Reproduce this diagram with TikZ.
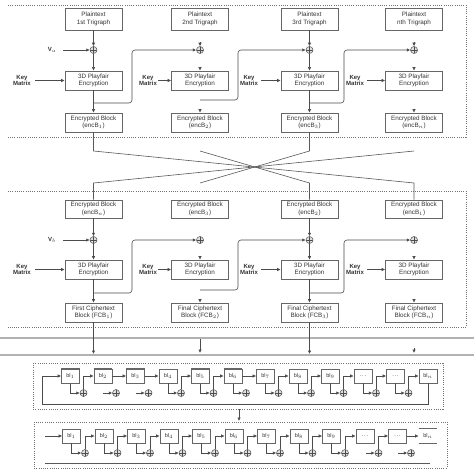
\documentclass[tikz,border=0pt]{standalone}
\usepackage{fontspec}
\setmainfont{Liberation Sans}
\usetikzlibrary{arrows.meta,calc}
\tikzset{
 box/.style={draw=black!60, line width=0.7pt, minimum width=57pt, minimum height=19pt, inner sep=0pt, align=center, font=\fontsize{6.3}{7.3}\selectfont, text=black!80},
 sbox/.style={draw=black!60, line width=0.7pt, minimum width=18pt, minimum height=14pt, inner sep=0pt, font=\fontsize{5.5}{6}\selectfont, text=black!80},
 obox/.style={sbox, draw=none},
 xor/.style={circle, draw=black!70, fill=black!12, line width=0.5pt, minimum size=7pt, inner sep=0pt, path picture={\draw[black!70,line width=0.4pt] (path picture bounding box.north) -- (path picture bounding box.south) (path picture bounding box.west) -- (path picture bounding box.east);}},
 arr/.style={-{Latex[length=3.5pt,width=3.5pt]}, black!70, line width=0.6pt},
 ln/.style={black!65, line width=0.6pt},
 dots/.style={black!55, line width=0.7pt, dash pattern=on 1pt off 1.2pt},
 lbl/.style={font=\bfseries\fontsize{6}{6.8}\selectfont, align=center, text=black!80, inner sep=1pt},
 fb/.style={arr, rounded corners=3pt},
}
\begin{document}
\begin{tikzpicture}[x=1pt,y=-1pt]
\useasboundingbox (0,0) rectangle (474,476);
\fill[white] (0,0) rectangle (474,476);

% ---------- top section ----------
\draw[dots] (8,5) -- (466,5) -- (466,137) -- (8,137);
\node[box, minimum height=22pt] (p1) at (93.5,19) {Plaintext\\1st Trigraph};
\node[box, minimum height=22pt] (p2) at (200,19) {Plaintext\\2nd Trigraph};
\node[box, minimum height=22pt] (p3) at (309.5,19) {Plaintext\\3rd Trigraph};
\node[box, minimum height=22pt] (p4) at (414,19) {Plaintext\\nth Trigraph};
\node[xor] (x1) at (93.5,50) {};
\node[xor] (x2) at (200,50) {};
\node[xor] (x3) at (309.5,50) {};
\node[xor] (x4) at (414,50) {};
\node[box] (e1) at (93.5,80.5) {3D Playfair\\Encryption};
\node[box] (e2) at (200,80.5) {3D Playfair\\Encryption};
\node[box] (e3) at (309.5,80.5) {3D Playfair\\Encryption};
\node[box] (e4) at (414,80.5) {3D Playfair\\Encryption};
\node[box] (c1) at (93.5,122.5) {Encrypted Block\\(encB$_1$)};
\node[box] (c2) at (200,122.5) {Encrypted Block\\(encB$_2$)};
\node[box] (c3) at (309.5,122.5) {Encrypted Block\\(encB$_3$)};
\node[box] (c4) at (414,122.5) {Encrypted Block\\(encB$_n$)};
\foreach \c in {1,3}{
 \draw[arr] (p\c) -- (x\c);
 \draw[arr] (x\c) -- (e\c);
 \draw[arr] (e\c) -- (c\c);
}
\foreach \c in {2,4}{
 \draw[arr] ($(x\c.north)+(0,-4)$) -- (x\c.north);
 \draw[arr] ($(e\c.north)+(0,-4)$) -- (e\c.north);
 \draw[arr] ($(c\c.north)+(0,-4)$) -- (c\c.north);
}
\node[lbl] (va) at (52,50) {V$_a$};
\draw[arr, shorten <=6pt] (va) -- (x1);
\node[lbl] (k1) at (22,80.5) {Key\\Matrix};
\node[lbl] (k2) at (148,80.5) {Key\\Matrix};
\node[lbl] (k3) at (249,80.5) {Key\\Matrix};
\node[lbl] (k4) at (355,80.5) {Key\\Matrix};
\draw[arr, shorten <=3pt] (k1) -- (e1);
\draw[arr] (k2) -- (e2);
\draw[arr, shorten <=2pt] (k3) -- (e3);
\draw[arr, shorten <=2pt] (k4) -- (e4);
\coordinate (fa1) at (93.5,103);
\coordinate (fa2) at (200,100);
\coordinate (fa3) at (309.5,103);
\draw[fb] (fa1) -- (132,103) -- (132,50) -- (x2.west);
\draw[fb] (fa2) -- (238,100) -- (238,50) -- (x3.west);
\draw[fb] (fa3) -- (344,103) -- (344,50) -- (x4.west);

% ---------- middle section ----------
\draw[dots] (8,191) -- (466,191) -- (466,327) -- (8,327);
\node[box, minimum height=18pt] (m1) at (93.5,209) {Encrypted Block\\(encB$_n$)};
\node[box, minimum height=18pt] (m2) at (200,209) {Encrypted Block\\(encB$_3$)};
\node[box, minimum height=18pt] (m3) at (309.5,209) {Encrypted Block\\(encB$_2$)};
\node[box, minimum height=18pt] (m4) at (414,209) {Encrypted Block\\(encB$_1$)};
\node[xor] (y1) at (93.5,240) {};
\node[xor] (y2) at (200,240) {};
\node[xor] (y3) at (309.5,240) {};
\node[xor] (y4) at (414,240) {};
\node[box] (q1) at (93.5,269.5) {3D Playfair\\Encryption};
\node[box] (q2) at (200,269.5) {3D Playfair\\Encryption};
\node[box] (q3) at (309.5,269.5) {3D Playfair\\Encryption};
\node[box] (q4) at (414,269.5) {3D Playfair\\Encryption};
\node[box] (f1) at (93.5,312.5) {First Ciphertext\\Block (FCB$_1$)};
\node[box] (f2) at (200,312.5) {Final Ciphertext\\Block (FCB$_2$)};
\node[box] (f3) at (309.5,312.5) {Final Ciphertext\\Block (FCB$_3$)};
\node[box] (f4) at (414,312.5) {Final Ciphertext\\Block (FCB$_n$)};
\foreach \c in {1,3}{
 \draw[arr] (m\c) -- (y\c);
 \draw[arr] (y\c) -- (q\c);
 \draw[arr] (q\c) -- (f\c);
}
\foreach \c in {2,4}{
 \draw[arr] ($(q\c.north)+(0,-4)$) -- (q\c.north);
 \draw[arr] ($(f\c.north)+(0,-4)$) -- (f\c.north);
}
\node[lbl] (vb) at (52,240) {V$_b$};
\draw[arr, shorten <=6pt] (vb) -- (y1);
\node[lbl] (kk1) at (22,269.5) {Key\\Matrix};
\node[lbl] (kk2) at (148,269.5) {Key\\Matrix};
\node[lbl] (kk3) at (249,269.5) {Key\\Matrix};
\node[lbl] (kk4) at (355,269.5) {Key\\Matrix};
\draw[arr, shorten <=3pt] (kk1) -- (q1);
\draw[arr] (kk2) -- (q2);
\draw[arr, shorten <=2pt] (kk3) -- (q3);
\draw[arr, shorten <=2pt] (kk4) -- (q4);
\coordinate (fb1) at (93.5,293);
\coordinate (fb2) at (200,290);
\coordinate (fb3) at (309.5,293);
\draw[fb] (fb1) -- (132,293) -- (132,240) -- (y2.west);
\draw[fb] (fb2) -- (238,290) -- (238,240) -- (y3.west);
\draw[fb] (fb3) -- (344,293) -- (344,240) -- (y4.west);

% ---------- crossing ----------
\coordinate (t1) at (93.5,151);
\coordinate (t2) at (200,151);
\coordinate (t3) at (309.5,151);
\coordinate (t4) at (414,151);
\coordinate (b1) at (93.5,183);
\coordinate (b2) at (200,183);
\coordinate (b3) at (309.5,183);
\coordinate (b4) at (414,183);
\draw[ln] (c1.south) -- (t1) -- (b4) -- (m4.north);
\draw[ln] (c3.south) -- (t3) -- (b2);
\draw[ln] (t4) -- (b1) -- (m1.north);
\draw[ln] (t2) -- (b3) -- (m3.north);

% ---------- bars ----------
\draw[black!30, line width=1.5pt] (0,338) -- (474,338);
\draw[black!30, line width=1.5pt] (0,355) -- (474,355);
\coordinate (g1) at (93.5,354);
\coordinate (g3) at (309.5,354);
\draw[arr] (f1) -- (g1);
\draw[arr] (f3) -- (g3);
\coordinate (h2a) at (200,339);
\coordinate (h2b) at (200,353);
\coordinate (h4a) at (414,348);
\coordinate (h4b) at (414,353);
\draw[arr] (h2a) -- (h2b);
\draw[arr] (h4a) -- (h4b);

% ---------- row 4 ----------
\draw[dots] (33,363) rectangle (443,409);
\foreach \i/\x/\t in {1/70.5/bl$_1$, 2/103/bl$_2$, 3/135.5/bl$_3$, 4/168/bl$_4$, 5/200.5/bl$_5$, 6/233/bl$_6$, 7/265.5/bl$_7$, 8/298/bl$_8$, 9/330.5/bl$_9$, 10/363/.\,.\,., 11/395.5/.\,.\,., 12/428/bl$_n$}{
 \node[sbox] (r\i) at (\x,376) {\t};
}
\foreach \i/\x in {1/70.5, 2/103, 3/135.5, 4/168, 5/200.5, 6/233, 7/265.5, 8/298, 9/330.5, 10/363, 11/395.5}{
 \node[xor] (rx\i) at (\x+13,393) {};
}
\foreach \i/\j in {1/2, 4/5, 5/6, 7/8, 8/9, 9/10, 10/11, 11/12}{
 \draw[arr] (r\i.south) |- (rx\i.west);
 \draw[arr] (rx\i.north) |- (r\j.west);
}
\foreach \i/\j in {2/3, 3/4}{
 \draw[arr] ($(rx\i.west)+(-9,0)$) -- (rx\i.west);
 \draw[arr] (r\i) -- (r\j);
}
\draw[arr] (r6.south) |- (rx6.west);
\draw[arr] (r6) -- (r7);
\coordinate (lp1) at (428,404);
\coordinate (lp2) at (42,404);
\draw[arr] (r12.south) -- (lp1) -- (lp2) |- (r1.west);

\coordinate (d1) at (239,409);
\coordinate (d2) at (239,421);
\draw[arr] (d1) -- (d2);

% ---------- row 5 ----------
\draw[dots] (34,422) rectangle (447,468);
\foreach \i/\x/\t in {1/71.5/bl$_1$, 2/104/bl$_2$, 3/136.5/bl$_3$, 4/169/bl$_4$, 5/201.5/bl$_5$, 6/234/bl$_6$, 7/266.5/bl$_7$, 8/299/bl$_8$, 9/331.5/bl$_9$, 10/365/.\,.\,., 11/397.5/.\,.\,.}{
 \node[sbox] (s\i) at (\x,436) {\t};
 \node[xor] (sx\i) at (\x+13.5,453) {};
}
\node[obox] (s12) at (428,436) {bl$_n$};
\coordinate (in5) at (45,436);
\draw[arr] (in5) -- (s1.west);
\foreach \i/\j in {1/2, 2/3, 3/4, 4/5, 5/6, 6/7, 7/8, 8/9, 9/10}{
 \draw[arr] (s\i.south) |- (sx\i.west);
 \draw[arr] (sx\i.north) |- (s\j.west);
}
\draw[arr] ($(sx10.west)+(-9,0)$) -- (sx10.west);
\draw[arr] (sx10.north) |- (s11.west);
\draw[arr] ($(sx11.west)+(-9,0)$) -- (sx11.west);
\draw[arr] (s11) -- (s12);
\coordinate (bl1) at (45,463);
\coordinate (bl2) at (430,463);
\draw[ln] (bl1) -- (bl2);

% open boxes: only top and bottom edges
\foreach \n in {r1,r2,r3,r5,r6,s12}{
 \draw[black!60, line width=0.7pt] (\n.north west) -- (\n.north east) (\n.south west) -- (\n.south east);
}
\end{tikzpicture}
\end{document}
